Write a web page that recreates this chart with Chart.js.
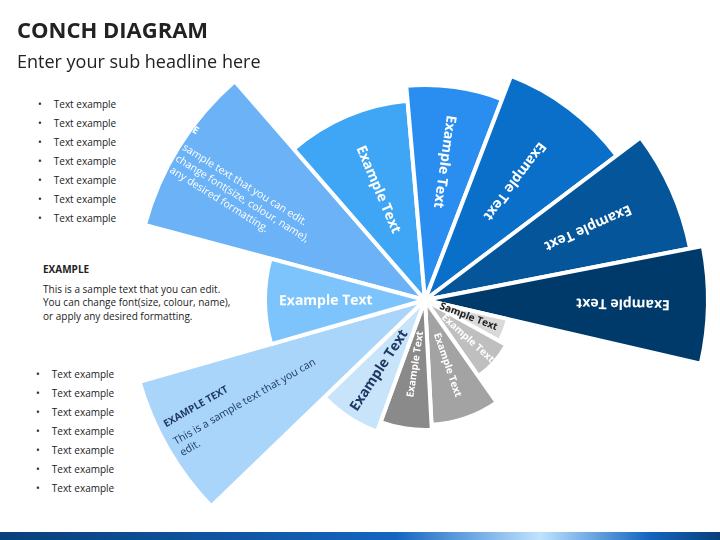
<!DOCTYPE html>
<html><head><meta charset="utf-8">
<script src="https://cdn.jsdelivr.net/npm/chart.js@4"></script>
<style>
body{margin:0;width:720px;height:540px;overflow:hidden;background:#fff;font-family:"Open Sans",sans-serif;position:relative}
h1{position:absolute;left:17px;top:14px;margin:0;font-size:22px;font-weight:bold;color:#222;z-index:2}
.sub{position:absolute;left:17px;top:49px;font-size:18px;color:#222;z-index:2}
ul{position:absolute;margin:0;padding-left:0;list-style:none;font-size:10px;color:#222}
ul li{line-height:19px}
ul li:before{content:"•";margin-right:12px;margin-left:-2px}
.ex{position:absolute;left:43px;top:263px;width:190px;font-size:10px;color:#222;line-height:13.5px}
#wrap{position:absolute;left:125px;top:0;width:600px;height:600px}
.bar{position:absolute;left:0;bottom:0;width:720px;height:8px;background:linear-gradient(90deg,#0a3f7a,#1565c0 55%,#bfe3ff 75%,#1565c0 90%,#0a3f7a)}
</style></head><body>
<h1>CONCH DIAGRAM</h1>
<div class="sub">Enter your sub headline here</div>
<ul style="left:40px;top:95px"><li>Text example</li><li>Text example</li><li>Text example</li><li>Text example</li><li>Text example</li><li>Text example</li><li>Text example</li></ul>
<div class="ex"><b>EXAMPLE</b><br><div style="height:6px"></div>This is a sample text that you can edit. You can change font(size, colour, name), or apply any desired formatting.</div>
<ul style="left:38px;top:365px"><li>Text example</li><li>Text example</li><li>Text example</li><li>Text example</li><li>Text example</li><li>Text example</li><li>Text example</li></ul>
<div id="wrap"><canvas id="c" width="600" height="600"></canvas></div>
<div class="bar"></div>
<script>
const radii=[290,200,215,240,270,283,85,93,125,130,140,297,160];
const angles=[34,36,26,32,26,24,16,26,32,23,26,28,31];
const colors=['#6cb2f6','#3ea6f5','#2a8ef0','#0a6fc8','#05559a','#003a6a','#d9d9d9','#bfbfbf','#a3a3a3','#8a8a8a','#c8e4fb','#a9d5fa','#7cc4fb'];
const labels=['EXAMPLE','Example Text','Example Text','Example Text','Example Text','Example Text','Sample Text','Example Text','Example Text','Example Text','Example Text','EXAMPLE TEXT','Example Text'];
const textColors=['#fff','#fff','#fff','#fff','#fff','#fff','#1f1f1f','#fff','#fff','#fff','#1f3864','#1f3864','#fff'];
const outward=[false,false,false,false,false,false,true,true,true,false,false,false,false];
const labelPos=[0.78,0.6,0.65,0.62,0.66,0.7,0.55,0.62,0.55,0.5,0.6,0.62,0.62];
const bodyText={0:['This is a sample text that you can edit.','You can change font(size, colour, name),','or apply any desired formatting.'],11:['This is a sample text that you can','edit.']};
const labelPlugin={id:'lbl',afterDatasetsDraw(chart){
 const ctx=chart.ctx;const meta=chart.getDatasetMeta(0);
 meta.data.forEach((arc,i)=>{
  const mid=(arc.startAngle+arc.endAngle)/2;
  const r=arc.outerRadius*labelPos[i];
  const x=arc.x+Math.cos(mid)*r,y=arc.y+Math.sin(mid)*r;
  let rot=outward[i]?mid:mid+Math.PI;
  ctx.save();ctx.translate(x,y);ctx.rotate(rot);
  ctx.fillStyle=textColors[i];ctx.textAlign='center';ctx.textBaseline='middle';
  const big=i<6||i>9;
  if(bodyText[i]){
   ctx.textAlign='left';
   const x0=-arc.outerRadius*0.35;
   ctx.font='bold 10px "Open Sans"';ctx.fillText(labels[i],x0,-22);
   ctx.font='10.5px "Open Sans"';
   bodyText[i].forEach((t,k)=>ctx.fillText(t,x0,-2+k*13));
  }else{
   ctx.font=(big?'bold 14px':'bold 10px')+' "Open Sans"';
   ctx.fillText(labels[i],0,0);
  }
  ctx.restore();
 });}};
new Chart(document.getElementById('c'),{type:'polarArea',
 data:{labels:labels,datasets:[{data:radii,backgroundColor:colors,borderColor:'#fff',borderWidth:4,angle:(c)=>angles[c.dataIndex]}]},
 options:{responsive:false,animation:false,layout:{padding:0},
  plugins:{legend:{display:false},tooltip:{enabled:false}},
  scales:{r:{startAngle:285,min:0,max:300,ticks:{display:false},grid:{display:false},angleLines:{display:false},pointLabels:{display:false}}}},
 plugins:[labelPlugin]});
</script></body></html>
